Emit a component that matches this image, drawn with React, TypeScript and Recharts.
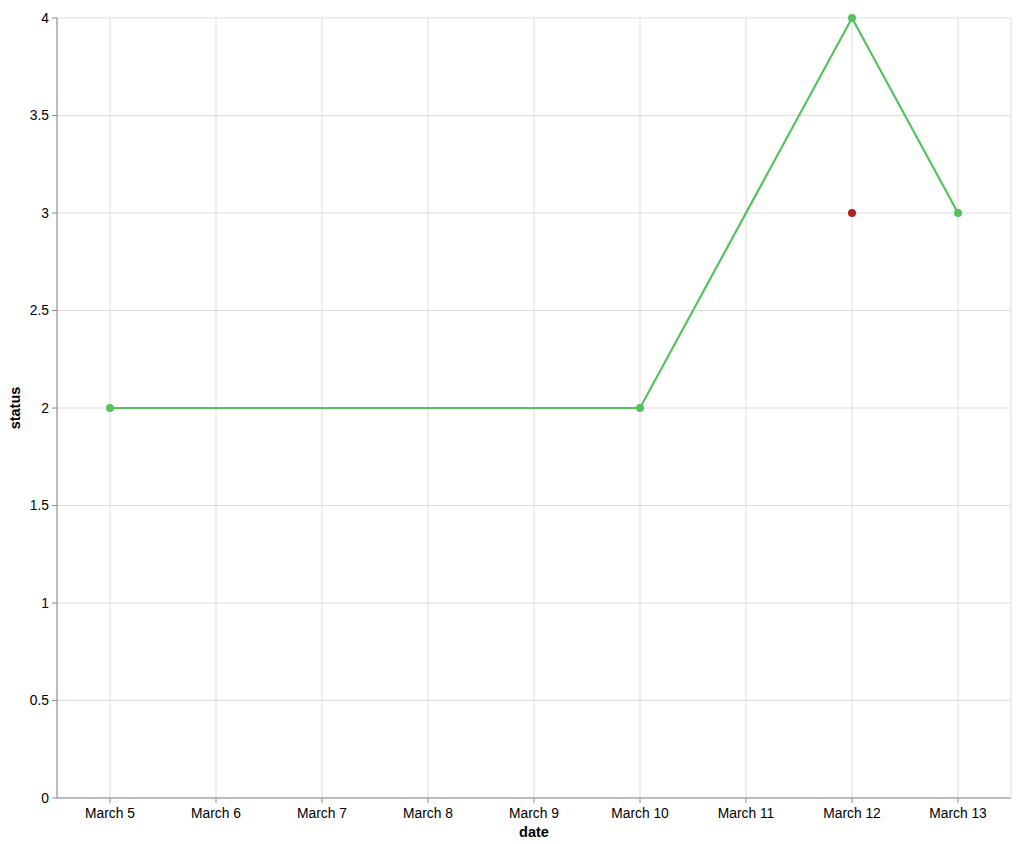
import * as React from "react"
import {
    ComposedChart, Line, XAxis, YAxis, CartesianGrid,
} from 'recharts'

const dates = ["March 5", "March 6", "March 7", "March 8", "March 9", "March 10", "March 11", "March 12", "March 13"]
const statusValues = [2, null, null, null, null, 2, null, 4, 3]
const alertValues = [null, null, null, null, null, null, null, 3, null]
const yTicks = [0, 0.5, 1, 1.5, 2, 2.5, 3, 3.5, 4]

const chartData = dates.map((date, i) => ({
    date,
    status: statusValues[i],
    alert: alertValues[i],
}))

const tickStyle = { fill: '#000', fontSize: 13.8, fontFamily: 'Liberation Sans, Arial, sans-serif' }
const labelStyle = { fill: '#000', fontSize: 14.5, fontWeight: 'bold', fontFamily: 'Liberation Sans, Arial, sans-serif' }

export default function App() {
    return (
        <div style={{ position: 'absolute', left: 0, top: 0, width: 1024, height: 844, background: '#fff' }}>
            <ComposedChart width={1024} height={844} data={chartData} margin={{ top: 18, right: 13, left: 0, bottom: 0 }}>
                <CartesianGrid stroke="#ddd" strokeWidth={1} />
                <XAxis
                    dataKey="date"
                    height={46}
                    stroke="#888"
                    padding={{ left: 53, right: 53 }}
                    tickSize={5}
                    tickMargin={5}
                    tick={tickStyle}
                    interval={0}
                    label={{ value: 'date', position: 'insideBottom', offset: 7, style: labelStyle }}
                />
                <YAxis
                    width={57}
                    domain={[0, 4]}
                    ticks={yTicks}
                    stroke="#888"
                    tickSize={5}
                    tickMargin={3}
                    tick={tickStyle}
                    label={{ value: 'status', angle: -90, position: 'insideLeft', offset: 15, textAnchor: 'middle', style: labelStyle }}
                />
                {/* right edge of the view border */}
                <YAxis
                    yAxisId="frame"
                    orientation="right"
                    width={0}
                    domain={[0, 4]}
                    stroke="#ddd"
                    tick={false}
                    tickLine={false}
                />
                <Line
                    dataKey="status"
                    type="linear"
                    stroke="#55c25f"
                    strokeWidth={2.2}
                    connectNulls
                    dot={{ r: 4, fill: '#55c25f', stroke: 'none' }}
                    activeDot={false}
                    isAnimationActive={false}
                />
                <Line
                    dataKey="alert"
                    type="linear"
                    stroke="none"
                    dot={{ r: 4, fill: '#b22222', stroke: 'none' }}
                    activeDot={false}
                    isAnimationActive={false}
                />
            </ComposedChart>
        </div>
    )
}
